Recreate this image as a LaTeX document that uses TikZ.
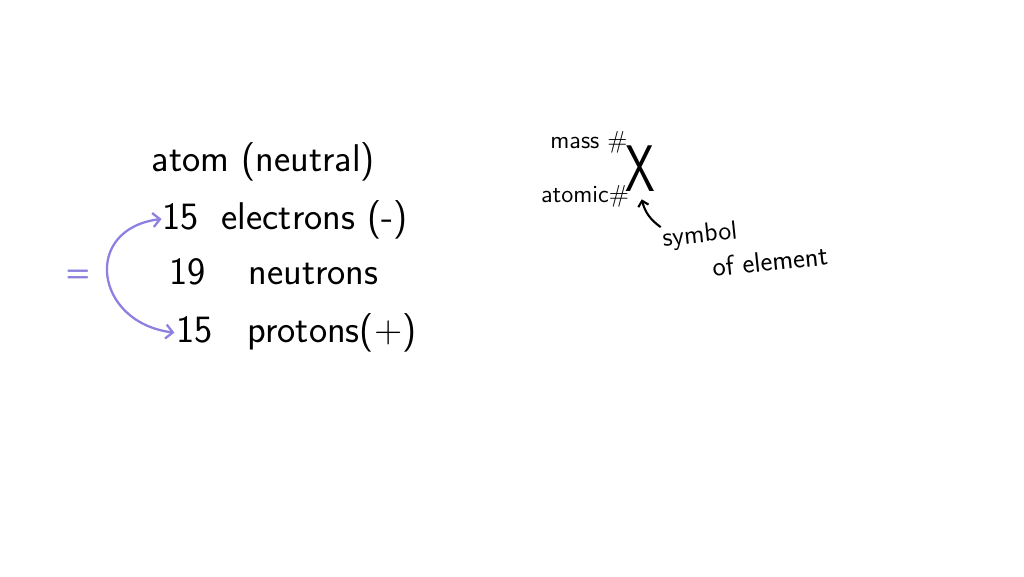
\documentclass[tikz,border=0pt]{standalone}
\usepackage{tikz}
\usetikzlibrary{arrows.meta}
\definecolor{penpurple}{RGB}{140,128,224}

\begin{document}
\begin{tikzpicture}[scale=0.2]
\tikzstyle{every node}+=[inner sep=0pt, font=\sffamily]
\tikzstyle{big}=[font=\sffamily\fontsize{22}{26}\selectfont]
\tikzstyle{small}=[font=\sffamily\fontsize{14}{16}\selectfont]
\tikzstyle{label}=[font=\sffamily\fontsize{15}{17}\selectfont]
\useasboundingbox (0,0) rectangle (102.4,-57.6);
% left column
\node [big] (atom) at (26.35,-16.2) {atom (neutral)};
\node [big] (electrons) at (28.5,-22) {15\hspace{0.6em}electrons (-)};
\node [big] (neutrons) at (27.4,-27.2) {19\hspace{1.1em}neutrons};
\node [big] (protons) at (29.65,-33.3) {15\hspace{0.9em}protons(+)};
\node [font=\sffamily\bfseries\fontsize{16}{18}\selectfont, text=penpurple] (eq) at (7.8,-27.6) {=};
\draw [penpurple, line width=1.3pt, {Straight Barb[length=4pt,width=8pt]}-{Straight Barb[length=4pt,width=8pt]}]
  ([xshift=-1pt,yshift=3pt]electrons.west) .. controls +(-8,-1) and +(-8,1) .. ([xshift=-5pt,yshift=1pt]protons.west);
% element symbol
\node [small] (mass) at (58.9,-14.2) {mass \#};
\node [font=\sffamily\fontsize{30}{32}\selectfont, xscale=0.9, yscale=1.25] (X) at (64,-16.9) {X};
\node [small] (atomic) at (58.5,-19.6) {atomic\#};
\node [label, rotate=6] (symbol) at (70,-23.6) {symbol};
\node [label, font=\sffamily\fontsize{16}{18}\selectfont, rotate=6] (element) at (77,-26.1) {of element};
\draw [line width=1.2pt, -{Straight Barb[length=3pt,width=6pt]}]
  ([xshift=-1pt,yshift=2pt]symbol.north west) to[bend left=20] ([xshift=5pt,yshift=-20pt]X.south);
\end{tikzpicture}
\end{document}
